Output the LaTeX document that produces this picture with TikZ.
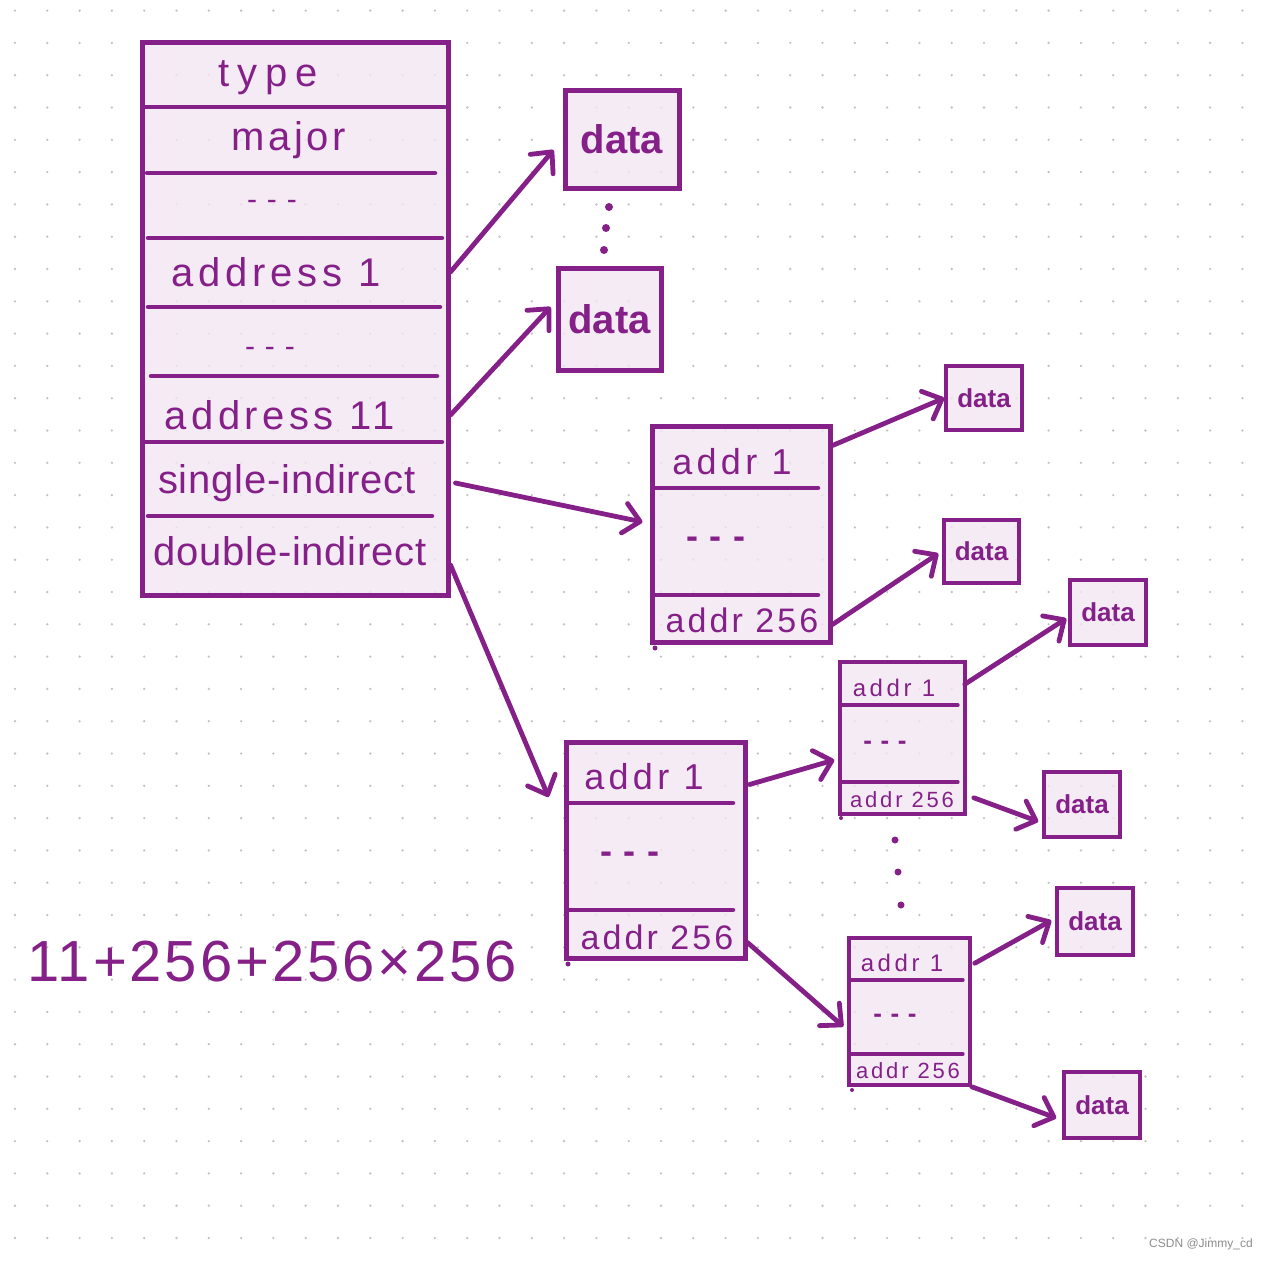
\documentclass[tikz,border=0pt]{standalone}
\usepackage{fontspec}
\setmainfont{Liberation Sans}
\usetikzlibrary{arrows.meta,calc}
\definecolor{pur}{RGB}{133,32,137}
\definecolor{lav}{RGB}{242,230,243}
\definecolor{dotc}{RGB}{195,195,195}
\newcommand{\lsz}[2]{\fontsize{#1}{#1}\selectfont\addfontfeature{LetterSpace=#2}}
\tikzset{
 box/.style={draw=pur, fill=lav, fill opacity=0.8, text opacity=1, line width=5pt, inner sep=0pt, rectangle},
 sbox/.style={box, line width=3.5pt},
 sep/.style={draw=pur, line width=4.5pt, line cap=round},
 ssep/.style={sep, line width=3.2pt},
 lab/.style={text=pur, inner sep=0pt, anchor=center},
 arr/.style={draw=pur, line width=4.8pt, line cap=round, -{Straight Barb[length=16pt,width=30pt,round]}},
 bigdata/.style={text=pur, font=\bfseries\fontsize{40}{40}\selectfont},
 smalldata/.style={text=pur, font=\bfseries\fontsize{26}{26}\selectfont},
 hdot/.style={fill=pur},
}
\begin{document}
\begin{tikzpicture}[x=1pt,y=-1pt]
\useasboundingbox (0,0) rectangle (1270,1261);
\fill[white] (0,0) rectangle (1270,1261);
% dot grid
\foreach \i in {0,...,38} {
  \foreach \j in {0,...,38} {
    \fill[dotc] (15+32.3*\i, 10.6+32.3*\j) circle[radius=1.3pt];
  }
}
% ---------- main inode box ----------
\node[box, minimum width=306pt, minimum height=553pt] (main) at (295,318.5) {};
\draw[sep] (144,107) -- (445,107);
\draw[sep] (147,173) -- (435,173);
\draw[sep] (148,238) -- (442,238);
\draw[sep] (148,307) -- (440,307);
\draw[sep] (151,376) -- (437,376);
\draw[sep] (145,442) -- (442,442);
\draw[sep] (148,516) -- (432,516);
\node[lab, font=\lsz{40}{20}] (ltype) at (268,78) {type};
\node[lab, font=\lsz{40}{9}] (lmajor) at (289,140) {major};
\node[lab, font=\lsz{30}{0}] (ldots1) at (272,205) {-\,\,-\,\,-};
\node[lab, font=\lsz{40}{12}] (laddr1) at (276,272) {address 1};
\node[lab, font=\lsz{30}{0}] (ldots2) at (270,352) {-\,\,-\,\,-};
\node[lab, font=\lsz{40}{11}] (laddr11) at (280,415) {address 11};
\node[lab, font=\lsz{40}{2}] (lsingle) at (287,483) {single-indirect};
\node[lab, font=\lsz{40}{2}] (ldouble) at (290,551) {double-indirect};
% ---------- direct data blocks ----------
\node[box, minimum width=114pt, minimum height=98pt, bigdata] (d1) at (622,139) {data};
\node[box, minimum width=103pt, minimum height=102pt, bigdata] (d2) at (609.5,319) {data};
\fill[hdot] (609,207) circle[radius=4pt];
\fill[hdot] (606,228) circle[radius=4pt];
\fill[hdot] (604,250) circle[radius=4pt];
% ---------- single indirect block ----------
\node[box, minimum width=178pt, minimum height=216pt] (s) at (741,534) {};
\draw[sep] (654,488) -- (818,488);
\draw[sep] (654,595) -- (818,595);
\node[lab, font=\lsz{36}{12}] (saddr1) at (732,462) {addr 1};
\node[lab, font=\bfseries\fontsize{36}{36}\selectfont] (sdots) at (716,543) {-\,\,-\,\,-};
\node[lab, font=\lsz{34}{9}] (saddr256) at (742,620) {addr 256};
\fill[hdot] (655,648) circle[radius=2.5pt];
\node[sbox, minimum width=76pt, minimum height=64pt, smalldata] (ds1) at (984,398) {data};
\node[sbox, minimum width=75pt, minimum height=63pt, smalldata] (ds2) at (981.5,551.5) {data};
% ---------- double indirect block ----------
\node[box, minimum width=179pt, minimum height=216pt] (db) at (655.5,850) {};
\draw[sep] (568,803) -- (733,803);
\draw[sep] (568,910) -- (733,910);
\node[lab, font=\lsz{36}{12}] (baddr1) at (644,777) {addr 1};
\node[lab, font=\bfseries\fontsize{36}{36}\selectfont] (bdots) at (630,858) {-\,\,-\,\,-};
\node[lab, font=\lsz{34}{9}] (baddr256) at (657,937) {addr 256};
\fill[hdot] (568,964) circle[radius=2.5pt];
% second level blocks
\node[sbox, minimum width=125pt, minimum height=152pt] (l1) at (902.5,738) {};
\draw[ssep] (842,705) -- (958,705);
\draw[ssep] (842,782) -- (958,782);
\node[lab, font=\lsz{24}{15}] (l1a) at (894,688) {addr 1};
\node[lab, font=\bfseries\fontsize{26}{26}\selectfont] (l1d) at (885,745) {-\,\,-\,\,-};
\node[lab, font=\lsz{22}{13}] (l1b) at (902,800) {addr 256};
\fill[hdot] (841,818) circle[radius=2pt];
\node[sbox, minimum width=121pt, minimum height=147pt] (l2) at (909.5,1011.5) {};
\draw[ssep] (851,980) -- (963,980);
\draw[ssep] (851,1054) -- (963,1054);
\node[lab, font=\lsz{24}{15}] (l2a) at (902,963) {addr 1};
\node[lab, font=\bfseries\fontsize{26}{26}\selectfont] (l2d) at (895,1018) {-\,\,-\,\,-};
\node[lab, font=\lsz{22}{13}] (l2b) at (908,1071) {addr 256};
\fill[hdot] (852,1090) circle[radius=2pt];
\fill[hdot] (895,840) circle[radius=3.5pt];
\fill[hdot] (898,872) circle[radius=3.5pt];
\fill[hdot] (901,905) circle[radius=3.5pt];
\node[sbox, minimum width=76pt, minimum height=65pt, smalldata] (dl1a) at (1108,612.5) {data};
\node[sbox, minimum width=76pt, minimum height=65pt, smalldata] (dl1b) at (1082,804.5) {data};
\node[sbox, minimum width=76pt, minimum height=67pt, smalldata] (dl2a) at (1095,921.5) {data};
\node[sbox, minimum width=76pt, minimum height=66pt, smalldata] (dl2b) at (1102,1105) {data};
% ---------- connectors ----------
\draw[arr] (main.east |- laddr1) -- ($(d1.west)+(-9,11)$);
\draw[arr] (main.east |- laddr11) -- ($(d2.west)+(-5,-12)$);
\draw[arr] ($(main.east |- lsingle)+(5,0)$) -- ($(s.west)+(-7,-12)$);
\draw[arr] ($(main.east |- ldouble)+(0,14)$) -- ($(db.west)+(-15,-53)$);
\draw[arr] ($(s.north east)+(0,22)$) -- (ds1.west);
\draw[arr] ($(s.south east)+(0,-20)$) -- ($(ds2.west)+(-4,2)$);
\draw[arr] ($(db.north east)+(2,45)$) -- ($(l1.west)+(-4,22)$);
\draw[arr] ($(db.south east)+(0,-18)$) -- ($(l2.west)+(-4,15)$);
\draw[arr] ($(l1.north east)+(-2,24)$) -- ($(dl1a.west)+(-2,6)$);
\draw[arr] ($(l1.south east)+(7,-18)$) -- ($(dl1b.west)+(-4,17)$);
\draw[arr] ($(l2.north east)+(3,27)$) -- ($(dl2a.west)+(-4,-1)$);
\draw[arr] (l2.south east) -- ($(dl2b.west)+(-6,13)$);
% ---------- formula and watermark ----------
\node[lab, font=\lsz{58}{5}] (eq) at (272,962) {11+256+256×256};
\node[text=black!45, inner sep=0pt, font=\fontsize{12}{12}\selectfont] (wm) at (1201,1244) {CSDN @Jimmy\_cd};
\end{tikzpicture}
\end{document}
